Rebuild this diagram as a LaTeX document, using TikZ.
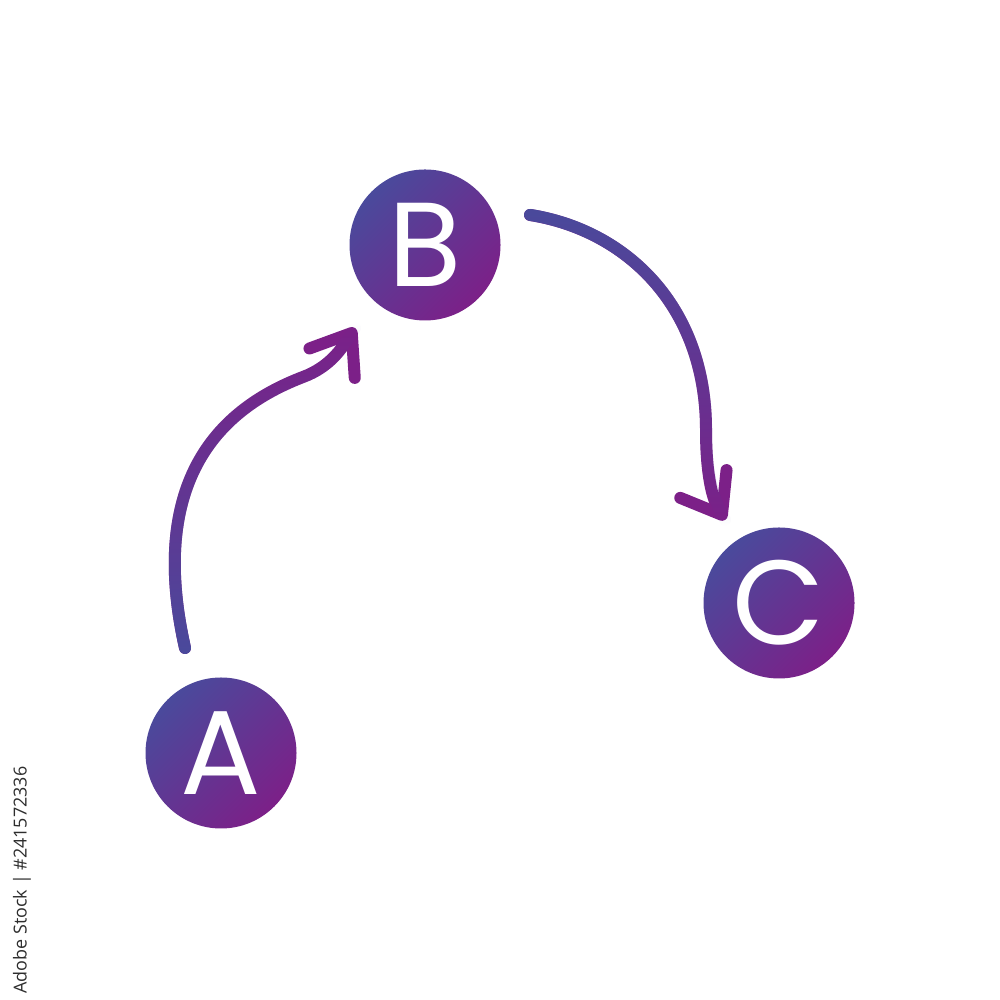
\documentclass[tikz,border=0pt]{standalone}
\usepackage{fontspec}
\newfontfamily\letterfont{Poppins}
\newfontfamily\tagfont{Open Sans}
\usetikzlibrary{arrows.meta,calc,fadings}

\definecolor{inkblue}{RGB}{74,74,156}
\definecolor{inkplum}{RGB}{124,32,136}
\definecolor{taggray}{RGB}{45,45,45}

\tikzfading[name=fade up, bottom color=transparent!0, top color=transparent!100]
\tikzfading[name=fade down, top color=transparent!0, bottom color=transparent!100]

\begin{document}
\begin{tikzpicture}[
  ball/.style={circle, inner sep=0pt, minimum size=1.51cm,
    top color=inkblue, bottom color=inkplum, shading angle=45,
    text=white, font=\letterfont\fontsize{34}{34}\selectfont},
  flow/.style={line width=0.12cm, line cap=round, line join=round},
  barb/.style={-{Straight Barb[length=3.6mm,width=5.4mm,round]}}
]
\useasboundingbox (0,0) rectangle (10,10);

% Circles
\foreach \n/\x/\y in {A/2.21/2.47, B/4.25/7.55, C/7.79/3.97}
  \node[ball] (\n) at (\x,\y) {\n};

% Free ends of the arrows
\coordinate (a1) at ($(A)+(-0.36,1.05)$);
\coordinate (b1) at ($(B)+(-0.70,-0.83)$);
\coordinate (b2) at ($(B)+(1.05,0.30)$);
\coordinate (c1) at ($(C)+(-0.54,0.83)$);

% A to B
\draw[flow, inkplum, barb] (a1) .. controls (1.45,5.3) and (2.3,5.95) .. (3.03,6.23)
  .. controls (3.3,6.33) and (3.42,6.52) .. (b1);
\draw[flow, inkblue, path fading=fade up] (a1) .. controls (1.45,5.3) and (2.3,5.95) .. (3.03,6.23)
  .. controls (3.3,6.33) and (3.42,6.52) .. (b1);

% B to C
\draw[flow, inkplum, barb] (b2) .. controls (6.25,7.7) and (7.06,6.95) .. (7.06,5.70)
  .. controls (7.06,5.35) and (7.1,5.05) .. (c1);
\draw[flow, inkblue, path fading=fade down] (b2) .. controls (6.25,7.7) and (7.06,6.95) .. (7.06,5.70)
  .. controls (7.06,5.35) and (7.1,5.05) .. (c1);

% Stock tag
\node[rotate=90, text=taggray, font=\tagfont\fontsize{5.1}{5.1}\selectfont] (tag) at (0.22,1.2)
  {Adobe Stock | \#241572336};
\end{tikzpicture}
\end{document}
